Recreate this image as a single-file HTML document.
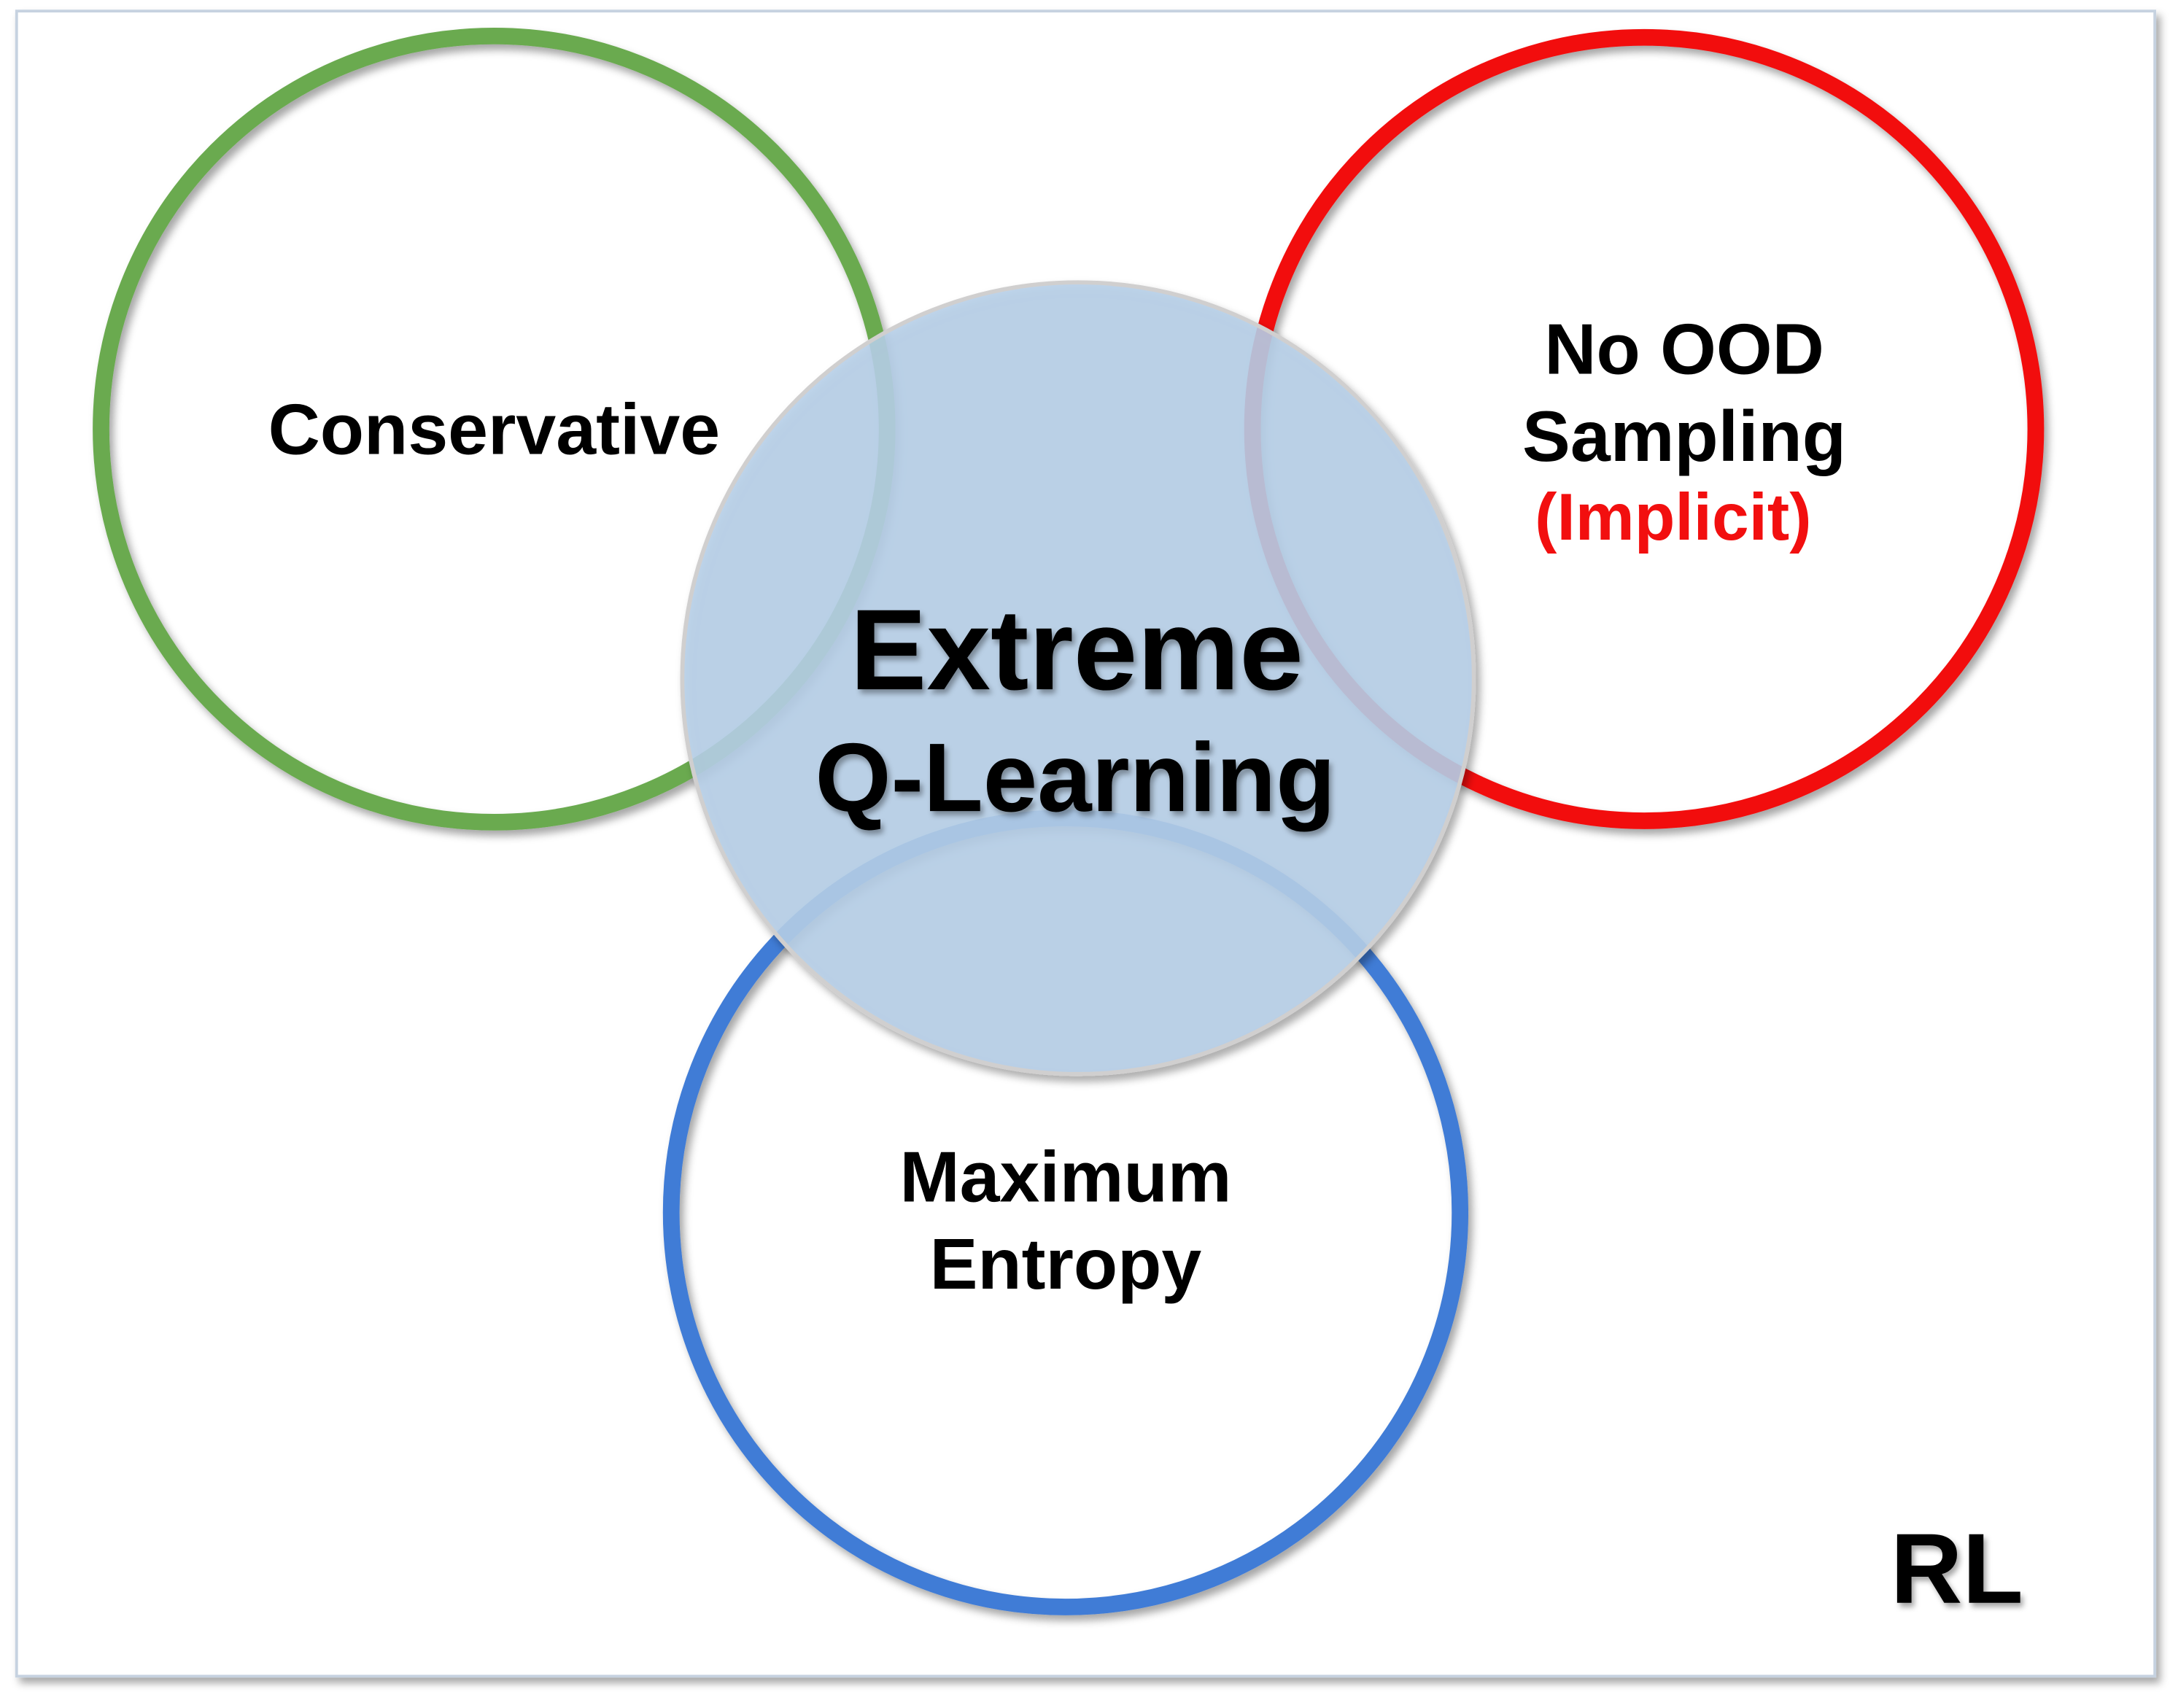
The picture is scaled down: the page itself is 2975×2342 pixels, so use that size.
<!DOCTYPE html>
<html><head><meta charset="utf-8"><style>
html,body{margin:0;padding:0;background:#fff;}
svg{display:block;}
text{font-family:"Liberation Sans",Arial,sans-serif;font-weight:bold;text-anchor:middle;}
</style></head><body>
<svg width="2975" height="2342" viewBox="0 0 1568 1234" preserveAspectRatio="none" xmlns="http://www.w3.org/2000/svg">
<defs>
<filter id="sh" x="-10%" y="-10%" width="130%" height="130%"><feDropShadow dx="3" dy="4" stdDeviation="3" flood-color="#000" flood-opacity="0.35"/></filter>
<filter id="ts" x="-10%" y="-10%" width="130%" height="140%"><feDropShadow dx="2" dy="3" stdDeviation="2" flood-color="#000" flood-opacity="0.35"/></filter>
</defs>
<rect x="0" y="0" width="1568" height="1234" fill="#fff"/>
<rect x="12" y="8" width="1545" height="1203" fill="#fff" stroke="#c6d2e0" stroke-width="2" filter="url(#sh)"/>
<circle cx="357" cy="310" r="284" fill="none" stroke="#6aaa50" stroke-width="12" filter="url(#sh)"/>
<circle cx="1188" cy="310" r="283" fill="none" stroke="#f20f0f" stroke-width="12" filter="url(#sh)"/>
<circle cx="770" cy="876" r="285" fill="none" stroke="#3f7bd6" stroke-width="12" filter="url(#sh)"/>
<circle cx="779" cy="490" r="286" fill="rgba(182,207,232,0.88)" stroke="#d0cfcf" stroke-width="3" filter="url(#sh)"/>
<text x="357" y="328" font-size="52">Conservative</text>
<text x="1217" y="270" font-size="52">No OOD</text>
<text x="1217" y="333" font-size="52">Sampling</text>
<text x="1209" y="390" font-size="48" fill="#f20f0f">(Implicit)</text>
<text x="778" y="498" font-size="83" filter="url(#ts)">Extreme</text>
<text x="777" y="586" font-size="70.5" filter="url(#ts)">Q-Learning</text>
<text x="770" y="868" font-size="52">Maximum</text>
<text x="770" y="931" font-size="52">Entropy</text>
<text x="1414" y="1158" font-size="72" filter="url(#ts)">RL</text>
</svg>
</body></html>
